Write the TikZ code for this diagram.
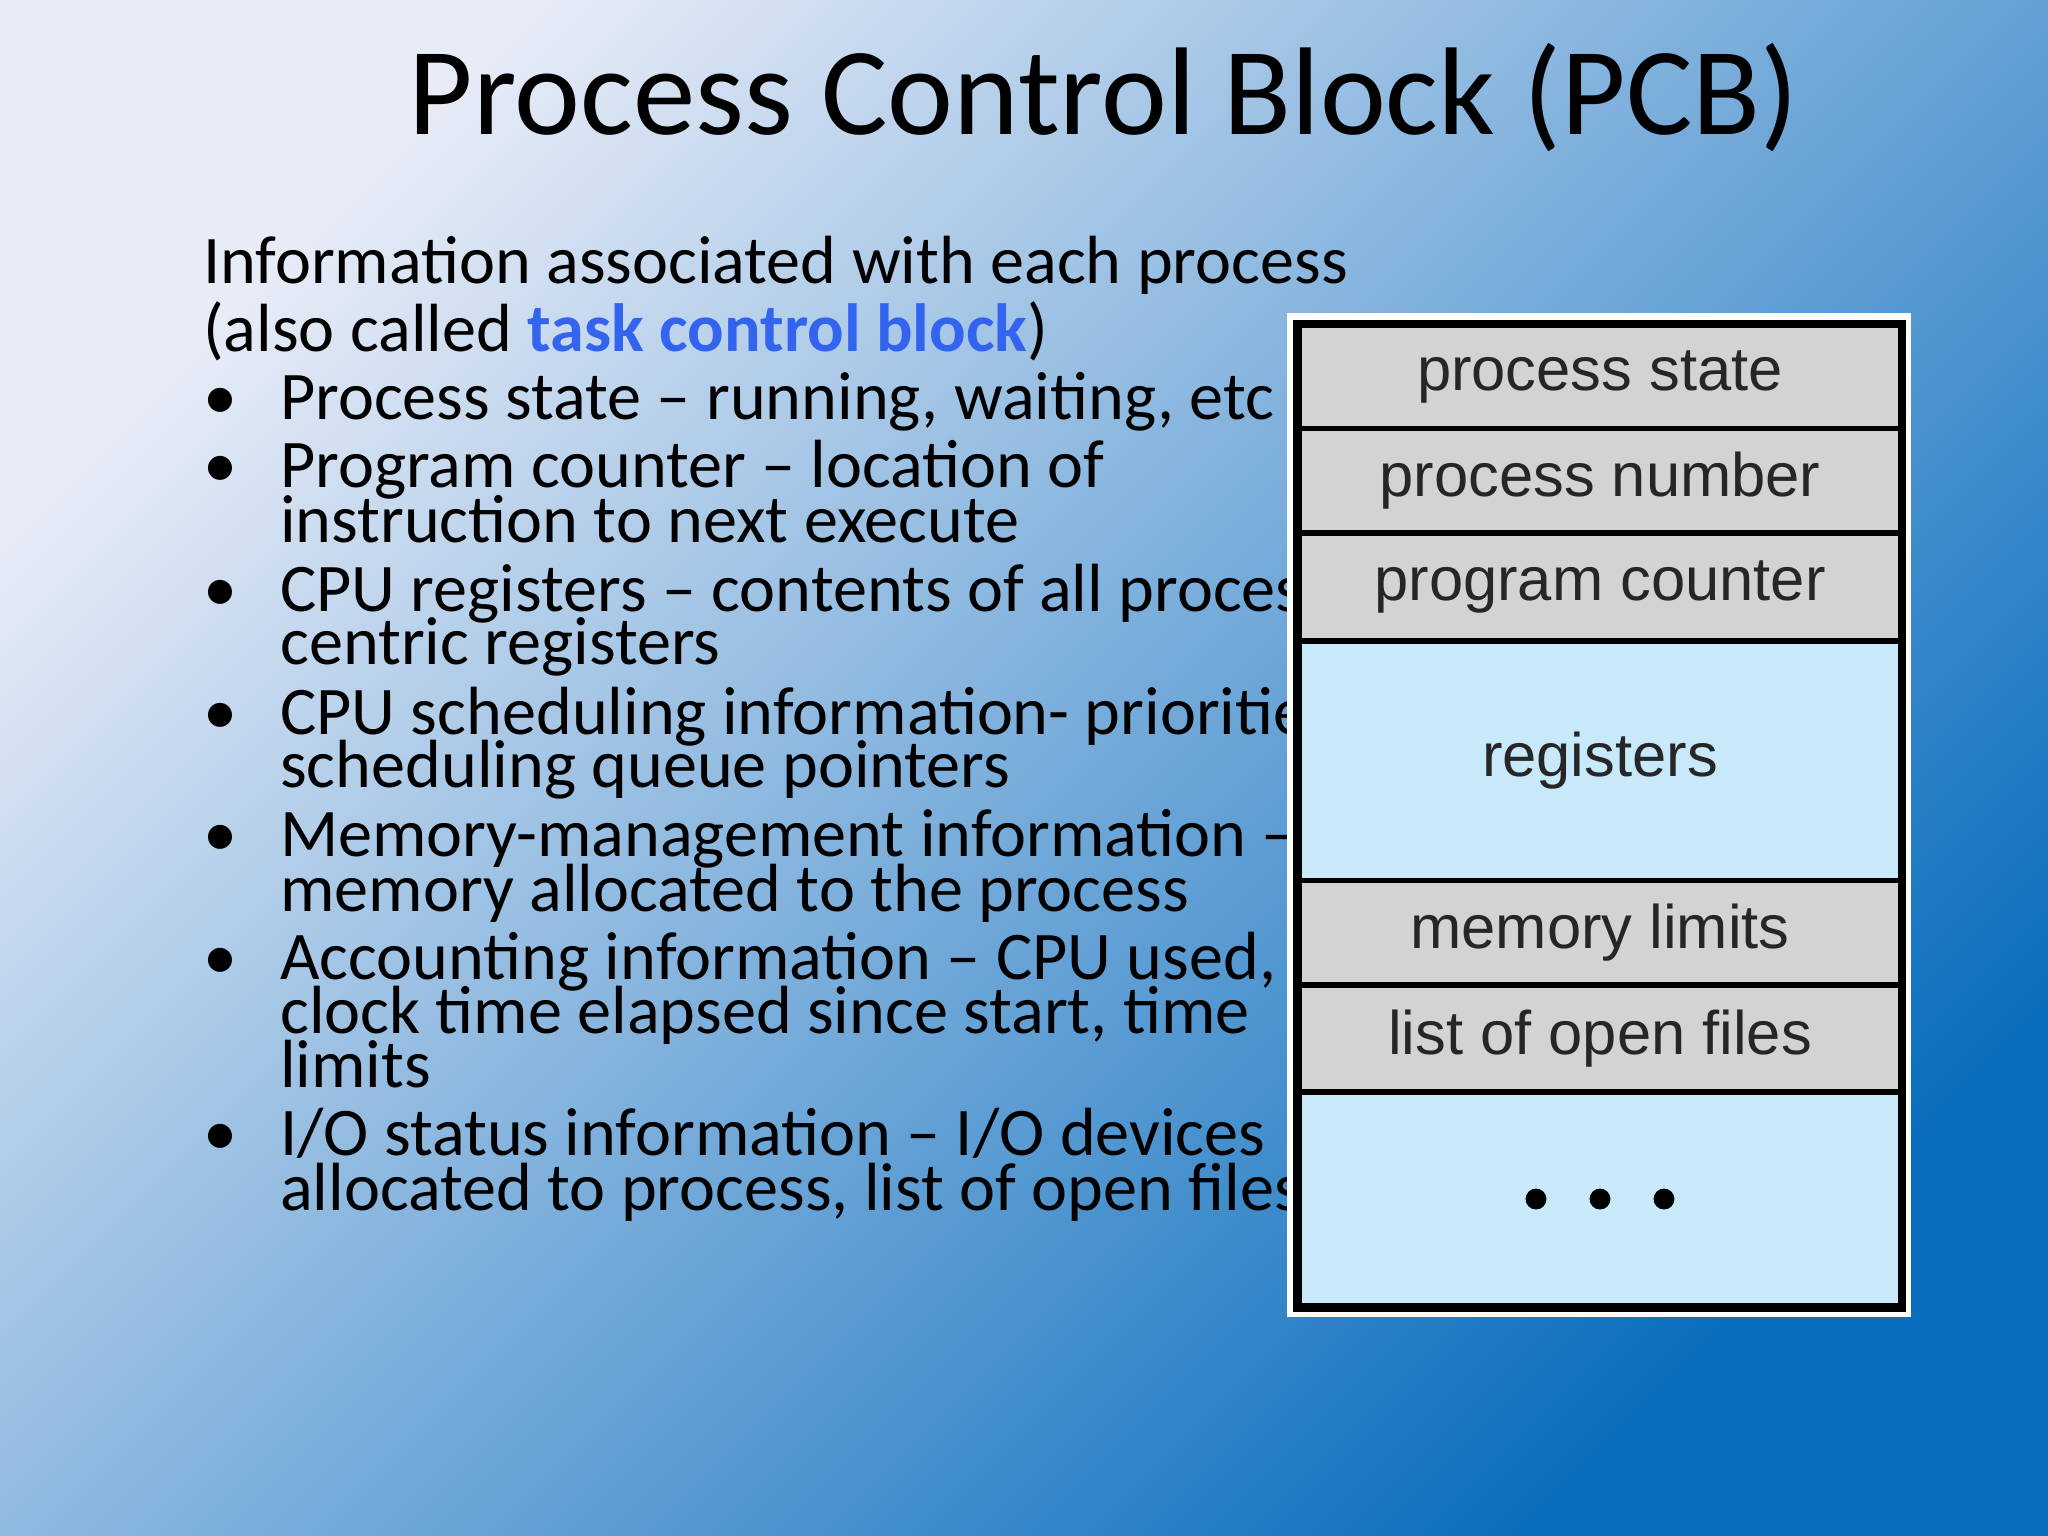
\documentclass[tikz,border=0pt]{standalone}
\usepackage{fontspec}
\setmainfont{Carlito}
\newfontfamily\arialf{Liberation Sans}
\definecolor{cul}{RGB}{232,236,247}
\definecolor{cmid}{RGB}{190,205,236}
\definecolor{clr}{RGB}{10,110,190}
\definecolor{tcb}{RGB}{50,100,240}
\definecolor{lblue}{RGB}{200,233,250}
\definecolor{lgray}{RGB}{211,211,211}
\begin{document}
\begin{tikzpicture}[x=0.013061cm,y=-0.013061cm,
  ln/.style={anchor=base west,inner sep=0pt,font=\fontsize{19.4}{23}\selectfont},
  bl/.style={anchor=base west,inner sep=0pt,font=\fontsize{19.4}{23}\selectfont},
  cell/.style={draw=black,line width=1.6pt,fill=lgray},
  bcell/.style={draw=black,line width=1.6pt,fill=lblue},
  lab/.style={font=\arialf\fontsize{17.5}{20}\selectfont,text=black!85}]
\useasboundingbox (0,0) rectangle (1568,1176);
\shade[top color=cul,middle color=cmid,bottom color=clr,shading angle=45] (0,0) rectangle (1568,1176);
\node[anchor=center,inner sep=0pt,font=\fontsize{35.5}{40}\selectfont] (title) at (845,75) {Process Control Block (PCB)};
\node[ln] (l1) at (155,217) {Information associated with each process};
\node[ln] (l2) at (155,269) {(also called \textbf{\textcolor{tcb}{task control block}})};
\foreach \y/\t [count=\i] in {321/{Process state -- running, waiting, etc},373/{Program counter -- location of},415/{instruction to next execute},
 468/{CPU registers -- contents of all process-},509/{centric registers},562/{CPU scheduling information- priorities,},603/{scheduling queue pointers},
 656/{Memory-management information --},698/{memory allocated to the process},750/{Accounting information -- CPU used,},791/{clock time elapsed since start, time},833/{limits},
 885/{I/O status information -- I/O devices},927/{allocated to process, list of open files}}
  \node[ln] (t\i) at (214,\y) {\t};
\foreach \y [count=\i] in {321,373,468,562,656,750,885}
  \node[bl] (b\i) at (155,\y) {•};
\fill[white] (985,240) rectangle (1463,1008);
\draw[cell] (995,249) rectangle node[lab] (c1) {process state} (1455,328);
\draw[cell] (995,328) rectangle node[lab] (c2) {process number} (1455,408);
\draw[cell] (995,408) rectangle node[lab] (c3) {program counter} (1455,491);
\draw[bcell] (995,491) rectangle node[lab] (c4) {registers} (1455,674);
\draw[cell] (995,674) rectangle node[lab] (c5) {memory limits} (1455,754);
\draw[cell] (995,754) rectangle node[lab] (c6) {list of open files} (1455,836);
\draw[bcell] (995,836) rectangle (1455,1000);
\draw[black,line width=2.4pt] (993,248) rectangle (1456,1001);
\foreach \x [count=\i] in {1176,1225,1274} \fill[black] (\x,918) circle (8) coordinate (d\i);
\end{tikzpicture}
\end{document}
